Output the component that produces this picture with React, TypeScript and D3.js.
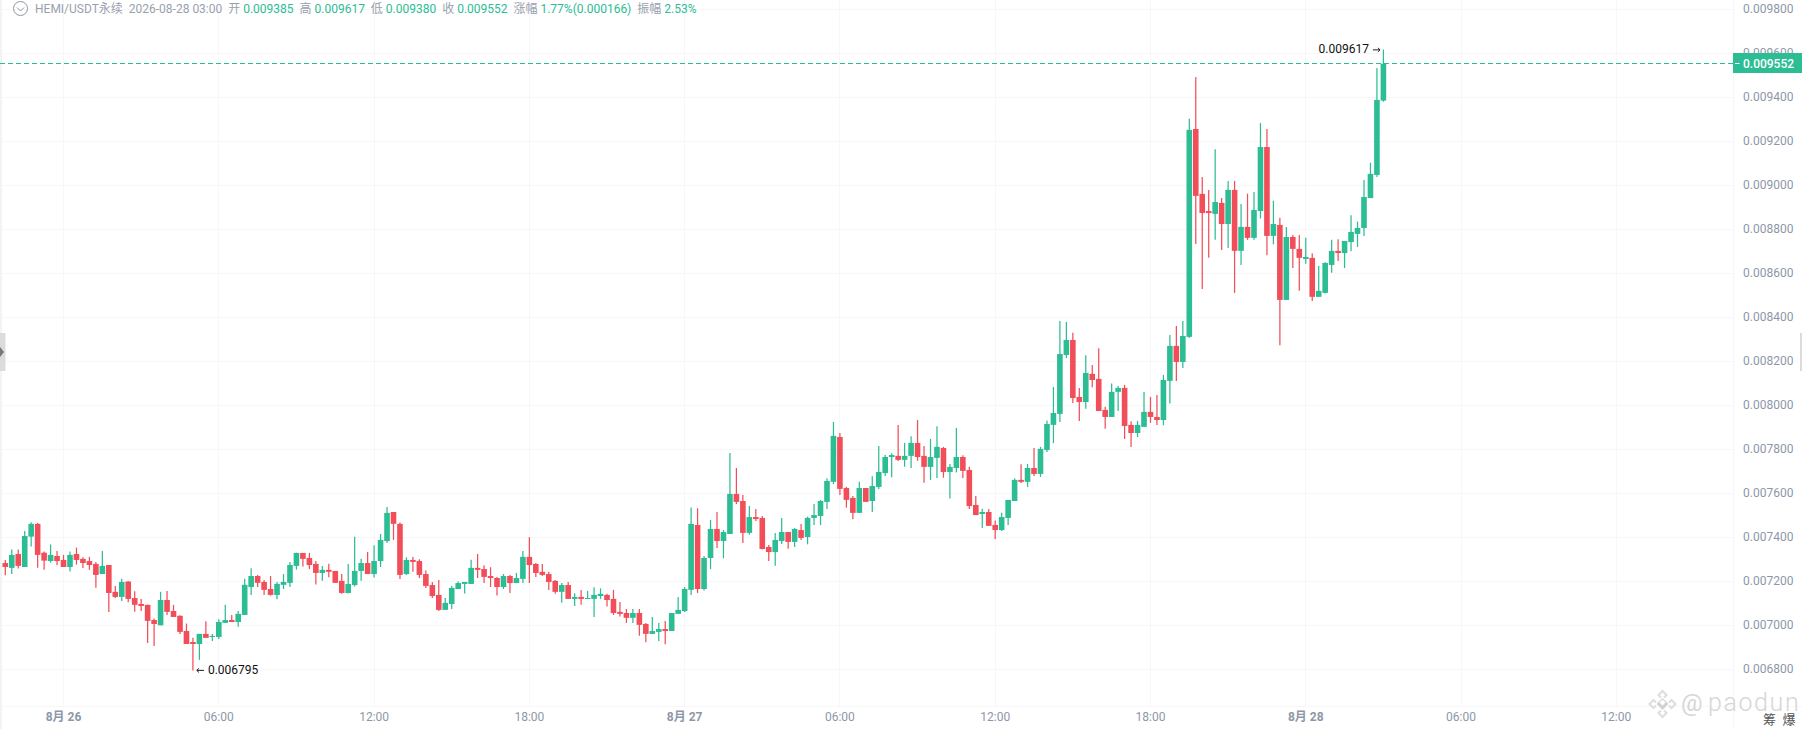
import React from "react";
import * as d3 from "d3";

const WIDTH = 1802;
const HEIGHT = 729;

// Prices below are in millionths of USDT (7283 = 0.007283). 15-minute bars.
const opens = [
  7283,7261,7324,7265,7403,7461,7330,7292,7315,7297,
  7265,7324,7302,7292,7279,7233,7274,7152,7129,7199,
  7124,7097,7093,7024,7000,7115,7065,7043,6974,6924,
  6915,6961,6947,6947,7011,7024,7015,7047,7174,7224,
  7197,7165,7138,7184,7193,7270,7329,7306,7279,7238,
  7252,7247,7202,7147,7183,7247,7283,7233,7292,7383,
  7515,7461,7233,7297,7292,7233,7183,7138,7070,7097,
  7165,7188,7188,7261,7256,7224,7215,7174,7224,7192,
  7211,7311,7279,7243,7233,7202,7152,7183,7120,7129,
  7120,7120,7133,7138,7120,7061,7056,7034,7056,7006,
  6961,6970,6983,6974,7052,7065,7161,7456,7165,7306,
  7438,7383,7415,7597,7565,7420,7492,7488,7356,7333,
  7383,7424,7379,7433,7401,7488,7497,7561,7652,7856,
  7624,7579,7511,7624,7565,7629,7692,7765,7770,7752,
  7770,7829,7770,7720,7761,7806,7697,7715,7765,7706,
  7547,7506,7515,7456,7433,7488,7565,7661,7652,7715,
  7688,7797,7911,7961,8229,8297,8038,8015,8143,8120,
  7979,7947,8061,8079,7911,7874,7902,7970,7947,7933,
  8111,8270,8197,8311,9256,8961,8883,8870,8920,8824,
  8979,8702,8811,8761,8883,9174,8770,8820,8479,8765,
  8711,8665,8670,8493,8511,8638,8702,8692,8742,8779,
  8806,8942,9047,9385,
];
const closes = [
  7265,7320,7270,7406,7461,7320,7294,7320,7292,7265,
  7320,7297,7283,7274,7229,7270,7147,7129,7197,7120,
  7093,7088,7020,7006,7115,7061,7038,6970,6915,6915,
  6961,6943,6952,7015,7024,7015,7052,7184,7224,7193,
  7161,7138,7188,7197,7274,7329,7302,7274,7238,7252,
  7243,7193,7147,7188,7247,7283,7233,7292,7388,7511,
  7461,7229,7297,7288,7229,7179,7133,7070,7102,7170,
  7192,7197,7261,7252,7220,7215,7174,7224,7192,7215,
  7311,7274,7238,7229,7197,7152,7183,7120,7129,7120,
  7124,7138,7143,7115,7056,7052,7034,7056,7002,6961,
  6974,6983,6974,7056,7070,7165,7461,7165,7306,7438,
  7383,7424,7597,7561,7420,7492,7483,7347,7333,7388,
  7424,7379,7438,7397,7488,7501,7565,7656,7861,7620,
  7570,7511,7624,7561,7633,7697,7765,7774,7752,7770,
  7829,7765,7720,7765,7811,7697,7720,7765,7702,7542,
  7501,7515,7452,7433,7492,7570,7661,7652,7715,7688,
  7802,7915,7965,8233,8297,8033,8015,8147,8115,7974,
  7947,8061,8079,7906,7874,7911,7970,7947,7933,8115,
  8270,8197,8315,9252,8952,8874,8874,8924,8824,8979,
  8702,8811,8761,8888,9174,8770,8824,8479,8765,8711,
  8670,8674,8493,8520,8647,8702,8692,8747,8788,8806,
  8947,9052,9388,9552,
];
const highs = [
  7297,7345,7345,7429,7468,7465,7335,7367,7338,7320,
  7335,7353,7309,7311,7288,7338,7274,7179,7212,7200,
  7155,7120,7093,7031,7152,7156,7093,7046,7008,6943,
  6961,7018,6961,7027,7093,7047,7065,7212,7259,7229,
  7206,7224,7197,7233,7288,7330,7329,7329,7292,7270,
  7280,7247,7233,7279,7402,7303,7333,7364,7415,7538,
  7515,7467,7309,7311,7300,7249,7197,7206,7124,7179,
  7199,7197,7298,7324,7273,7264,7220,7233,7229,7238,
  7338,7400,7283,7279,7243,7206,7192,7197,7146,7161,
  7156,7173,7168,7143,7161,7106,7074,7074,7074,7011,
  7038,7010,7020,7056,7129,7174,7535,7532,7315,7479,
  7515,7433,7783,7715,7592,7542,7529,7497,7365,7420,
  7488,7424,7442,7461,7494,7551,7570,7668,7924,7874,
  7629,7588,7652,7624,7677,7815,7774,7782,7911,7829,
  7859,7933,7815,7847,7905,7811,7733,7897,7773,7721,
  7588,7530,7529,7476,7512,7570,7668,7732,7733,7806,
  7811,7931,8083,8383,8379,8330,8079,8227,8183,8259,
  7993,8099,8088,8093,7927,7929,8061,8038,8047,8138,
  8320,8361,8383,9303,9492,9038,8979,9164,8942,9020,
  9020,8915,8962,8970,9283,9256,8930,8852,8811,8774,
  8774,8762,8691,8633,8650,8752,8755,8747,8864,8835,
  9024,9103,9533,9617,
];
const lows = [
  7227,7233,7258,7265,7358,7262,7253,7285,7273,7265,
  7245,7276,7261,7252,7171,7233,7061,7124,7111,7105,
  7062,7065,6920,6906,7000,7047,7038,6961,6915,6795,
  6843,6943,6929,6938,7011,7015,6993,7047,7138,7174,
  7138,7135,7118,7165,7174,7253,7267,7256,7186,7202,
  7218,7193,7143,7144,7176,7202,7233,7217,7265,7374,
  7388,7211,7229,7243,7215,7170,7124,7065,7070,7074,
  7165,7144,7188,7215,7192,7174,7136,7165,7147,7192,
  7192,7192,7220,7224,7161,7143,7102,7120,7088,7093,
  7120,7038,7120,7085,7047,7040,7011,7011,6952,6923,
  6961,6929,6914,6974,7052,7061,7138,7147,7158,7256,
  7351,7305,7415,7551,7374,7412,7474,7344,7292,7271,
  7370,7348,7356,7388,7368,7456,7456,7529,7642,7592,
  7535,7482,7511,7561,7515,7620,7679,7673,7747,7721,
  7715,7748,7648,7661,7670,7671,7576,7695,7670,7529,
  7501,7442,7452,7391,7429,7456,7565,7647,7629,7679,
  7674,7788,7828,7924,8215,8011,7929,7984,8082,7974,
  7893,7947,7974,7847,7811,7856,7902,7920,7911,7909,
  8008,8111,8170,8306,8733,8529,8671,8753,8706,8715,
  8511,8638,8752,8752,8849,8682,8732,8273,8479,8624,
  8521,8643,8474,8493,8508,8602,8656,8624,8700,8720,
  8770,8942,9038,9380,
];

const priceTicks = [6800,7000,7200,7400,7600,7800,8000,8200,8400,8600,8800,9000,9200,9400,9600,9800];
const timeTickIndex = [9,33,57,81,105,129,153,177,201,225,249];
const timeTickLabels = ["8月 26","06:00","12:00","18:00","8月 27","06:00","12:00","18:00","8月 28","06:00","12:00"];
const boldTimeLabels = ["8月 26","8月 27","8月 28"];
const lastPrice = 9552;
const maxPrice = 9617;
const minPrice = 6795;

type Seg = [string, boolean];
const headerSegments: Seg[] = [
  ["HEMI/USDT永续", false],["  2026-08-28 03:00", false],["  开 ", false],["0.009385", true],
  ["  高 ", false],["0.009617", true],["  低 ", false],["0.009380", true],["  收 ", false],["0.009552", true],
  ["  涨幅 ", false],["1.77%(0.000166)", true],["  振幅 ", false],["2.53%", true],
];

const GREEN = "#2dbd94";
const RED = "#f24e5a";
const GRID = "#f7f7f8";
const AXIS_TEXT = "#8d97a8";
const FONT = "Roboto, 'Noto Sans CJK SC', sans-serif";
const PLOT_RIGHT = 1733.5;
const PLOT_BOTTOM = 706.5;

const x = d3.scaleLinear().domain([0, 213]).range([5.3, 1383.4]);
const y = d3.scaleLinear().domain([6800, 9800]).range([669.3, 9.3]);
const fmt = (v: number) => (v / 1e6).toFixed(6);
const crisp = (v: number) => Math.floor(v) + 0.5;

function Diamond({ cx, cy, r, fill }: { cx: number; cy: number; r: number; fill: string }) {
  return <path d={`M${cx - r},${cy}L${cx},${cy - r}L${cx + r},${cy}L${cx},${cy + r}Z`} fill={fill} />;
}

export default function App() {
  const bodyW = 5.6;
  const logoX = 1662.5;
  const logoY = 704;
  return (
    <svg
      width={WIDTH}
      height={HEIGHT}
      viewBox={`0 0 ${WIDTH} ${HEIGHT}`}
      style={{ position: "fixed", left: 0, top: 0, display: "block", background: "#fff" }}
      fontFamily={FONT}
    >
      <rect x={0} y={0} width={2} height={HEIGHT} fill="#f3f3f3" />
      <line x1={PLOT_RIGHT} x2={PLOT_RIGHT} y1={0} y2={HEIGHT} stroke={GRID} />
      <line x1={2} x2={WIDTH} y1={PLOT_BOTTOM} y2={PLOT_BOTTOM} stroke={GRID} />
      {priceTicks.map((p) => (
        <line key={p} x1={2} x2={PLOT_RIGHT} y1={crisp(y(p))} y2={crisp(y(p))} stroke={GRID} />
      ))}
      {timeTickIndex.map((i) => (
        <line key={i} x1={crisp(x(i))} x2={crisp(x(i))} y1={0} y2={PLOT_BOTTOM} stroke={GRID} />
      ))}

      {opens.map((o, i) => {
        const c = closes[i];
        const col = c >= o ? GREEN : RED;
        const top = y(Math.max(o, c));
        const bot = y(Math.min(o, c));
        return (
          <g key={i}>
            <line x1={x(i)} x2={x(i)} y1={y(highs[i])} y2={y(lows[i])} stroke={col} strokeWidth={1.25} />
            <rect x={x(i) - bodyW / 2} y={top} width={bodyW} height={Math.max(1, bot - top)} fill={col} />
          </g>
        );
      })}

      {/* header */}
      <circle cx={20.5} cy={8.5} r={7} fill="none" stroke="#8f95a3" strokeWidth={1} />
      <path d="M17,7.5L20.5,11L24,7.5" fill="none" stroke="#8f95a3" strokeWidth={1} />
      <text x={35} y={12.5} fontSize={12} xmlSpace="preserve" style={{ whiteSpace: "pre" }}>
        {headerSegments.map(([t, isVal], k) => (
          <tspan key={k} fill={isVal ? GREEN : "#9a9fae"}>{t}</tspan>
        ))}
      </text>

      {/* axes */}
      {priceTicks.map((p) => (
        <text key={p} x={1743} y={y(p) + 3.7} fontSize={12} fill={AXIS_TEXT}>{fmt(p)}</text>
      ))}
      {timeTickIndex.map((idx, k) => {
        const bold = boldTimeLabels.includes(timeTickLabels[k]);
        return (
          <text
            key={idx}
            x={x(idx)}
            y={721}
            fontSize={12}
            textAnchor="middle"
            fontWeight={bold ? 700 : 400}
            fill={AXIS_TEXT}
          >
            {timeTickLabels[k]}
          </text>
        );
      })}

      {/* last price */}
      <line x1={0} x2={PLOT_RIGHT} y1={crisp(y(lastPrice))} y2={crisp(y(lastPrice))} stroke={GREEN} strokeDasharray="5 3" />
      <rect x={PLOT_RIGHT - 0.5} y={53} width={WIDTH - PLOT_RIGHT + 0.5} height={20} fill={GREEN} />
      <line x1={PLOT_RIGHT + 1.5} x2={PLOT_RIGHT + 6} y1={crisp(y(lastPrice))} y2={crisp(y(lastPrice))} stroke="#fff" />
      <text x={1743} y={67.5} fontSize={12} fontWeight={500} fill="#fff">{fmt(lastPrice)}</text>

      {/* max / min annotations */}
      <text x={x(213) - 14.5} y={y(maxPrice) + 3.7} textAnchor="end" fontSize={12} fill="#111">{fmt(maxPrice)}</text>
      <path
        d={`M${x(213) - 10.5},${y(maxPrice) + 0.3}h7M${x(213) - 5.5},${y(maxPrice) - 1.7}l2.2,2l-2.2,2`}
        fill="none"
        stroke="#222"
      />
      <text x={x(29) + 15} y={y(minPrice) + 3.5} fontSize={12} fill="#111">{fmt(minPrice)}</text>
      <path
        d={`M${x(29) + 11},${y(minPrice)}h-7M${x(29) + 6},${y(minPrice) - 2}l-2.2,2l2.2,2`}
        fill="none"
        stroke="#222"
      />

      {/* left panel handle */}
      <rect x={0} y={333} width={5.5} height={38} fill="#dcdcdc" />
      <path d="M0,347L4,352L0,357Z" fill="#777" />
      <rect x={1800} y={333} width={2} height={38} fill="#dcdcdc" />

      {/* watermark */}
      <g>
        <Diamond cx={logoX} cy={logoY - 9} r={5.5} fill="#dedede" />
        <Diamond cx={logoX - 9} cy={logoY} r={5.5} fill="#dedede" />
        <Diamond cx={logoX + 9} cy={logoY} r={5.5} fill="#dedede" />
        <Diamond cx={logoX} cy={logoY + 9} r={5.5} fill="#dedede" />
        <Diamond cx={logoX} cy={logoY} r={8} fill="#fff" />
        <Diamond cx={logoX} cy={logoY} r={6} fill="#d2d2d2" />
        <Diamond cx={logoX} cy={logoY - 1.5} r={3} fill="#fff" />
        <Diamond cx={logoX} cy={logoY - 9} r={2.5} fill="#fff" />
        <Diamond cx={logoX - 9} cy={logoY} r={2.5} fill="#fff" />
        <Diamond cx={logoX + 9} cy={logoY} r={2.5} fill="#fff" />
        <Diamond cx={logoX} cy={logoY + 9} r={2.5} fill="#fff" />
        <text x={1681} y={711} fontSize={24} fill="#d6d6d6">@</text>
        <text x={1708} y={711} fontSize={25} fill="#d6d6d6" letterSpacing={1.6} fontWeight={300}>paodun</text>
      </g>
      <text x={1763} y={724} fontSize={13} fill="#555" style={{ whiteSpace: "pre" }} xmlSpace="preserve">筹  爆</text>
    </svg>
  );
}
